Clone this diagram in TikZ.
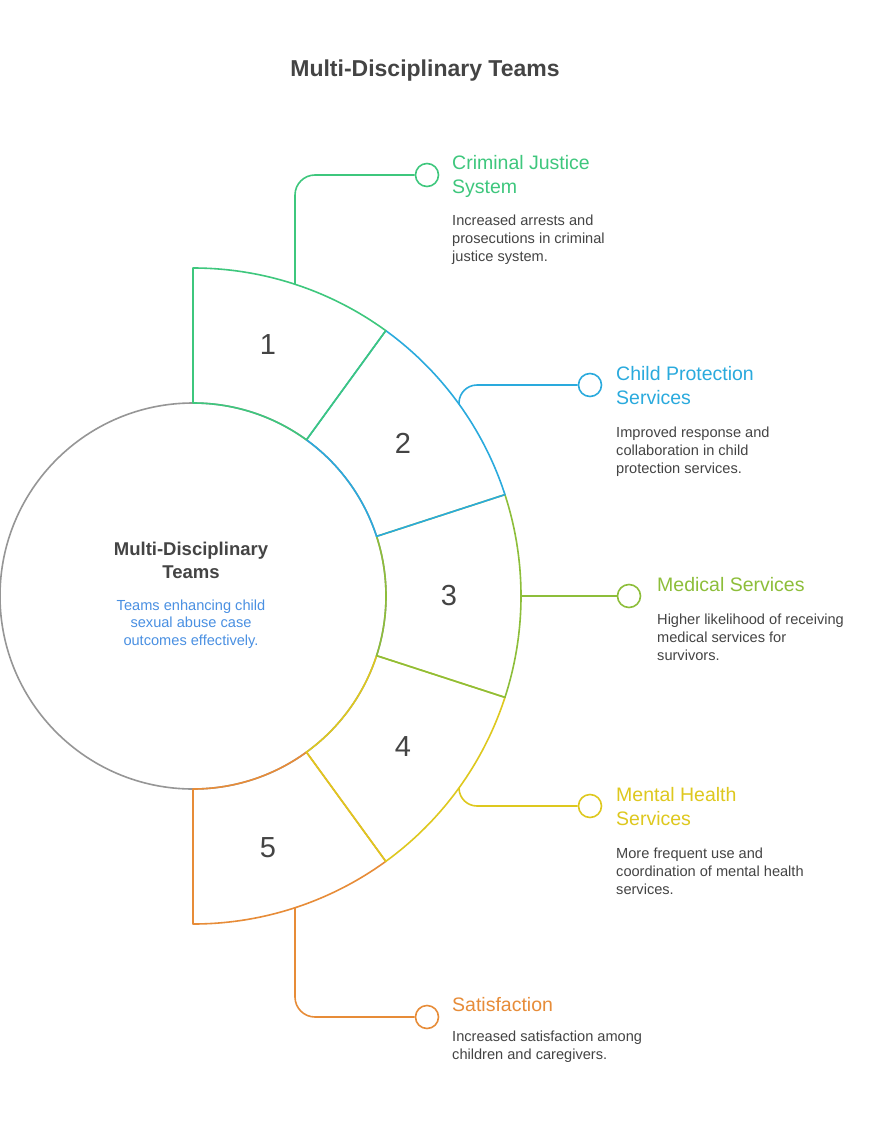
\documentclass[tikz,border=0pt]{standalone}
\usepackage{fontspec}
\setmainfont{Liberation Sans}
\definecolor{cgreen}{RGB}{62,199,125}
\definecolor{cblue}{RGB}{42,170,221}
\definecolor{clime}{RGB}{141,190,58}
\definecolor{cyellow}{RGB}{222,200,30}
\definecolor{corange}{RGB}{231,140,56}
\definecolor{cgray}{RGB}{150,150,150}
\definecolor{tdark}{RGB}{68,68,68}
\definecolor{tblue}{RGB}{74,144,226}
\tikzset{
  seg/.style={line width=1.6pt, line join=round},
  conn/.style={line width=1.6pt, rounded corners=20pt},
  dot/.style={circle, draw, line width=1.6pt, fill=white, minimum size=23pt, inner sep=0pt},
  ttl/.style={anchor=north west, inner sep=0pt, align=left, font=\fontsize{19.5}{24}\selectfont},
  body/.style={anchor=north west, inner sep=0pt, align=left, text=tdark, font=\fontsize{14.6}{18}\selectfont},
  num/.style={text=tdark, font=\fontsize{29}{32}\selectfont, inner sep=0pt},
}
\begin{document}
\begin{tikzpicture}[x=1pt,y=1pt]
\path[use as bounding box, fill=white] (0,0) rectangle (894,-1145);
\node[text=tdark, font=\bfseries\fontsize{23}{26}\selectfont] (title) at (425,-71) {Multi-Disciplinary Teams};
\coordinate (C) at (193,-596);
% central circle
\draw[cgray, line width=1.6pt] (C) circle[radius=193];
% segments (drawn last to first so each boundary line keeps the colour of the segment above it)
\begin{scope}[shift={(C)}]
\draw[seg, corange] (-54:193) -- (-54:328) arc[start angle=-54, end angle=-90, radius=328] -- (-90:193) arc[start angle=-90, end angle=-54, radius=193] -- cycle;
\draw[seg, cyellow] (-18:193) -- (-18:328) arc[start angle=-18, end angle=-54, radius=328] -- (-54:193) arc[start angle=-54, end angle=-18, radius=193] -- cycle;
\draw[seg, clime]   (18:193) -- (18:328) arc[start angle=18, end angle=-18, radius=328] -- (-18:193) arc[start angle=-18, end angle=18, radius=193] -- cycle;
\draw[seg, cblue]   (54:193) -- (54:328) arc[start angle=54, end angle=18, radius=328] -- (18:193) arc[start angle=18, end angle=54, radius=193] -- cycle;
\draw[seg, cgreen]  (90:193) -- (90:328) arc[start angle=90, end angle=54, radius=328] -- (54:193) arc[start angle=54, end angle=90, radius=193] -- cycle;
\end{scope}
% numbers
\node[num] (n1) at (268,-345) {1};
\node[num] (n2) at (403,-443) {2};
\node[num] (n3) at (449,-596) {3};
\node[num] (n4) at (403,-747) {4};
\node[num] (n5) at (268,-848) {5};
% center text
\node[text=tdark, align=center, font=\bfseries\fontsize{18.5}{23}\selectfont, inner sep=0pt] (ct) at (191,-560.5) {Multi-Disciplinary\\Teams};
\node[text=tblue, align=center, font=\fontsize{14.6}{17.3}\selectfont, inner sep=0pt] (cd) at (191,-624) {Teams enhancing child\\sexual abuse case\\outcomes effectively.};
% connector start points
\coordinate (s1) at (295,-284);
\coordinate (s2) at (459,-404);
\coordinate (s3) at (521,-596);
\coordinate (s4) at (459,-788);
\coordinate (s5) at (295,-908);
% dots
\node[dot, draw=cgreen]  (d1) at (427,-175) {};
\node[dot, draw=cblue]   (d2) at (590,-385) {};
\node[dot, draw=clime]   (d3) at (629,-596) {};
\node[dot, draw=cyellow] (d4) at (590,-806) {};
\node[dot, draw=corange] (d5) at (427,-1017) {};
% connectors
\draw[conn, cgreen]  (s1) |- (d1.west);
\draw[conn, cblue, rounded corners=18pt]  (s2) |- (d2.west);
\draw[conn, clime]   (s3) -- (d3.west);
\draw[conn, cyellow, rounded corners=18pt] (s4) |- (d4.west);
\draw[conn, corange] (s5) |- (d5.west);
% labels
\node[ttl, text=cgreen] (t1) at (452,-155) {Criminal Justice\\System};
\node[body] (b1) at (452,-215) {Increased arrests and\\prosecutions in criminal\\justice system.};
\node[ttl, text=cblue] (t2) at (616,-366.5) {Child Protection\\Services};
\node[body] (b2) at (616,-426.5) {Improved response and\\collaboration in child\\protection services.};
\node[ttl, text=clime] (t3) at (657,-577) {Medical Services};
\node[body] (b3) at (657,-613.5) {Higher likelihood of receiving\\medical services for\\survivors.};
\node[ttl, text=cyellow] (t4) at (616,-787) {Mental Health\\Services};
\node[body] (b4) at (616,-847.5) {More frequent use and\\coordination of mental health\\services.};
\node[ttl, text=corange] (t5) at (452,-997) {Satisfaction};
\node[body] (b5) at (452,-1031) {Increased satisfaction among\\children and caregivers.};
\end{tikzpicture}
\end{document}
